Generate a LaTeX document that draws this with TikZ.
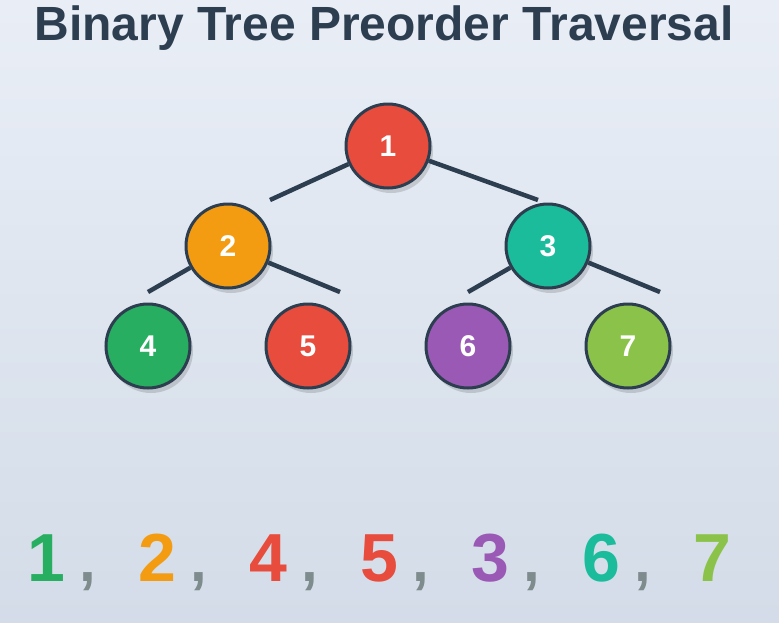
\documentclass[tikz,border=0pt]{standalone}
\usepackage{fontspec}
\setmainfont{Liberation Sans}
\usetikzlibrary{shadows}
\definecolor{ink}{HTML}{2C3E50}
\definecolor{cRed}{HTML}{E74C3C}
\definecolor{cOrange}{HTML}{F39C12}
\definecolor{cTeal}{HTML}{1ABC9C}
\definecolor{cGreen}{HTML}{27AE60}
\definecolor{cPurple}{HTML}{9B59B6}
\definecolor{cLime}{HTML}{8BC34A}
\definecolor{cComma}{HTML}{7F8C8D}
\definecolor{bgTop}{HTML}{E9EEF6}
\definecolor{bgBot}{HTML}{D3DCE8}
\tikzset{every picture/.style={line width=0.75pt}}
\tikzset{
  treenode/.style={circle, draw=ink, line width=3pt, minimum size=84pt, inner sep=0pt,
    text=white, font=\fontsize{30}{30}\selectfont\bfseries,
    drop shadow={shadow xshift=3pt, shadow yshift=-5pt, opacity=0.25, fill=black!60}},
  edge/.style={draw=ink, line width=4.5pt},
  seq/.style={font=\fontsize{68}{68}\selectfont\bfseries},
  comma/.style={text=cComma, font=\fontsize{60}{60}\selectfont\bfseries}
}

\begin{document}
\begin{tikzpicture}[x=1pt,y=1pt,yscale=-1,xscale=1]
% background
\shade[top color=bgTop, bottom color=bgBot] (0,0) rectangle (779,622);
\useasboundingbox (0,0) rectangle (779,622);

% Title
\node[text=ink, font=\fontsize{48}{48}\selectfont\bfseries] (title) at (384,28) {Binary Tree Preorder Traversal};

% free ends of the branches
\coordinate (e1l) at (270,200);
\coordinate (e1r) at (538,200);
\coordinate (e2l) at (148,292);
\coordinate (e2r) at (340,292);
\coordinate (e3l) at (468,292);
\coordinate (e3r) at (660,292);

% Tree nodes
\node[treenode, fill=cRed] (n1) at (388,146) {1};
\node[treenode, fill=cOrange] (n2) at (228,246) {2};
\node[treenode, fill=cTeal] (n3) at (548,246) {3};
\node[treenode, fill=cGreen] (n4) at (148,346) {4};
\node[treenode, fill=cRed] (n5) at (308,346) {5};
\node[treenode, fill=cPurple] (n6) at (468,346) {6};
\node[treenode, fill=cLime] (n7) at (628,346) {7};

% Branches
\draw[edge] (n1) -- (e1l);
\draw[edge] (n1) -- (e1r);
\draw[edge] (n2) -- (e2l);
\draw[edge] (n2) -- (e2r);
\draw[edge] (n3) -- (e3l);
\draw[edge] (n3) -- (e3r);

% Traversal order
\node[seq, text=cGreen] (s1) at (46,558) {1};
\node[seq, text=cOrange] (s2) at (157,558) {2};
\node[seq, text=cRed] (s3) at (268,558) {4};
\node[seq, text=cRed] (s4) at (379,558) {5};
\node[seq, text=cPurple] (s5) at (490,558) {3};
\node[seq, text=cTeal] (s6) at (601,558) {6};
\node[seq, text=cLime] (s7) at (712,558) {7};
\foreach \i in {1,...,6}
  \node[comma] (c\i) at (88+111*\i-111,582) {,};

\end{tikzpicture}
\end{document}
